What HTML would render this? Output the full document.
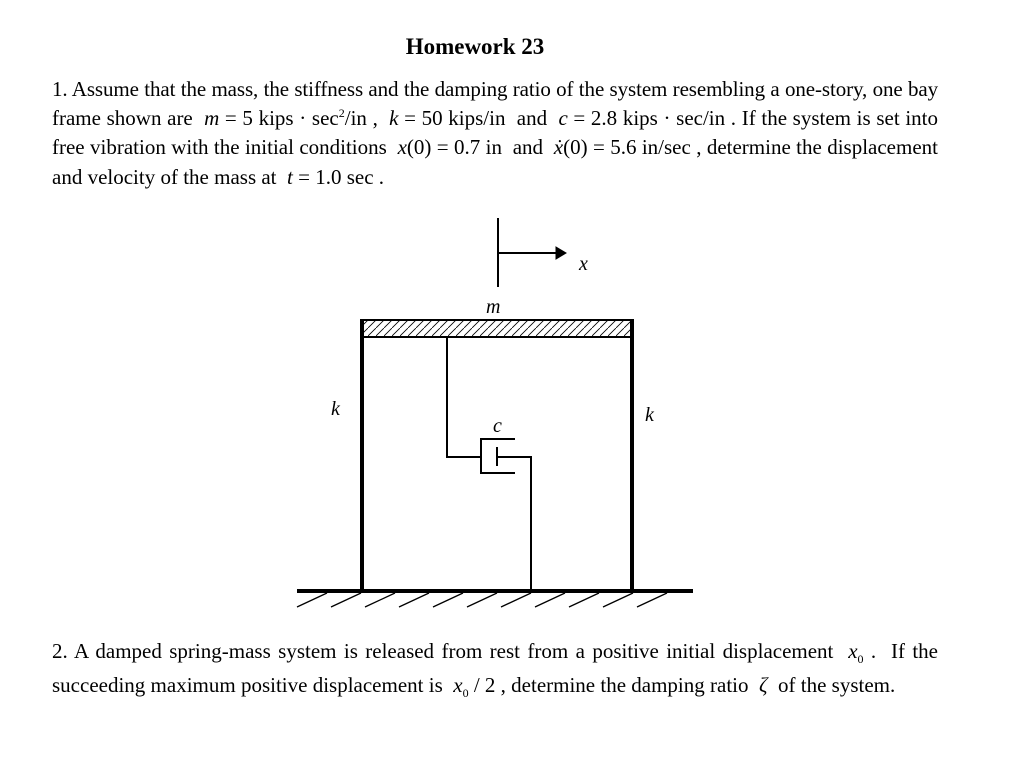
<!DOCTYPE html>
<html><head><meta charset="utf-8"><style>
body{margin:0;width:1024px;height:774px;background:#fff;position:relative;overflow:hidden;font-family:"Liberation Serif",serif;color:#000}
.l{position:absolute;left:52px;width:886px;font-size:21px;white-space:nowrap;text-align:justify;text-align-last:justify;line-height:22px}
.n{text-align-last:left}
i{font-style:italic}
sub,sup{font-size:12px;line-height:0}
</style></head><body>
<div style="position:absolute;left:0;width:1024px;top:34px;text-align:center;font-size:23px;font-weight:bold"><span style="position:relative;left:-37px">Homework 23</span></div>
<div class="l" style="top:78px;letter-spacing:-0.1px">1. Assume that the mass, the stiffness and the damping ratio of the system resembling a one-story, one bay</div>
<div class="l" style="top:107px">frame shown are&nbsp; <i>m</i> = 5 kips · sec<sup>2</sup>/in ,&nbsp; <i>k</i> = 50 kips/in&nbsp; and&nbsp; <i>c</i> = 2.8 kips · sec/in . If the system is set into</div>
<div class="l" style="top:136px">free vibration with the initial conditions&nbsp; <i>x</i>(0) = 0.7 in&nbsp; and&nbsp; <i>ẋ</i>(0) = 5.6 in/sec , determine the displacement</div>
<div class="l n" style="top:166px">and velocity of the mass at&nbsp; <i>t</i> = 1.0 sec .</div>
<div class="l" style="top:640px;font-size:21px">2. A damped spring-mass system is released from rest from a positive initial displacement&nbsp; <i>x</i><sub>0</sub> .&nbsp; If the</div>
<div class="l n" style="top:674px;font-size:21px;letter-spacing:0px">succeeding maximum positive displacement is&nbsp; <i>x</i><sub>0</sub> / 2 , determine the damping ratio&nbsp; <i>ζ</i>&nbsp; of the system.</div>
<svg width="1024" height="774" style="position:absolute;left:0;top:0">
<defs><pattern id="h" width="8" height="8" patternUnits="userSpaceOnUse"><path d="M0 8 L8 0" stroke="#000" stroke-width="0.8"/></pattern></defs>
<g stroke="#000" fill="none">
<line x1="498" y1="218" x2="498" y2="287" stroke-width="2"/>
<line x1="498" y1="253" x2="556" y2="253" stroke-width="2"/>
<polygon points="556,247 566,253 556,259" fill="#000"/>
<rect x="362" y="320" width="270" height="17" fill="url(#h)" stroke-width="2"/>
<line x1="362" y1="319" x2="362" y2="591" stroke-width="4"/>
<line x1="632" y1="319" x2="632" y2="591" stroke-width="4"/>
<line x1="297" y1="591" x2="693" y2="591" stroke-width="4"/>
<path d="M447 337 V457 H481 M515 439 H481 V473 H515 M497 447 V466 M497 457 H531 V591" stroke-width="2"/>
<g stroke-width="1.3">
<path d="M297 607 L327 593 M331 607 L361 593 M365 607 L395 593 M399 607 L429 593 M433 607 L463 593 M467 607 L497 593 M501 607 L531 593 M535 607 L565 593 M569 607 L599 593 M603 607 L633 593 M637 607 L667 593"/>
</g>
</g>
<g font-family="Liberation Serif" font-style="italic" font-size="20">
<text x="579" y="270">x</text>
<text x="486" y="313">m</text>
<text x="331" y="415">k</text>
<text x="645" y="421">k</text>
<text x="493" y="432">c</text>
</g>
</svg>
</body></html>
